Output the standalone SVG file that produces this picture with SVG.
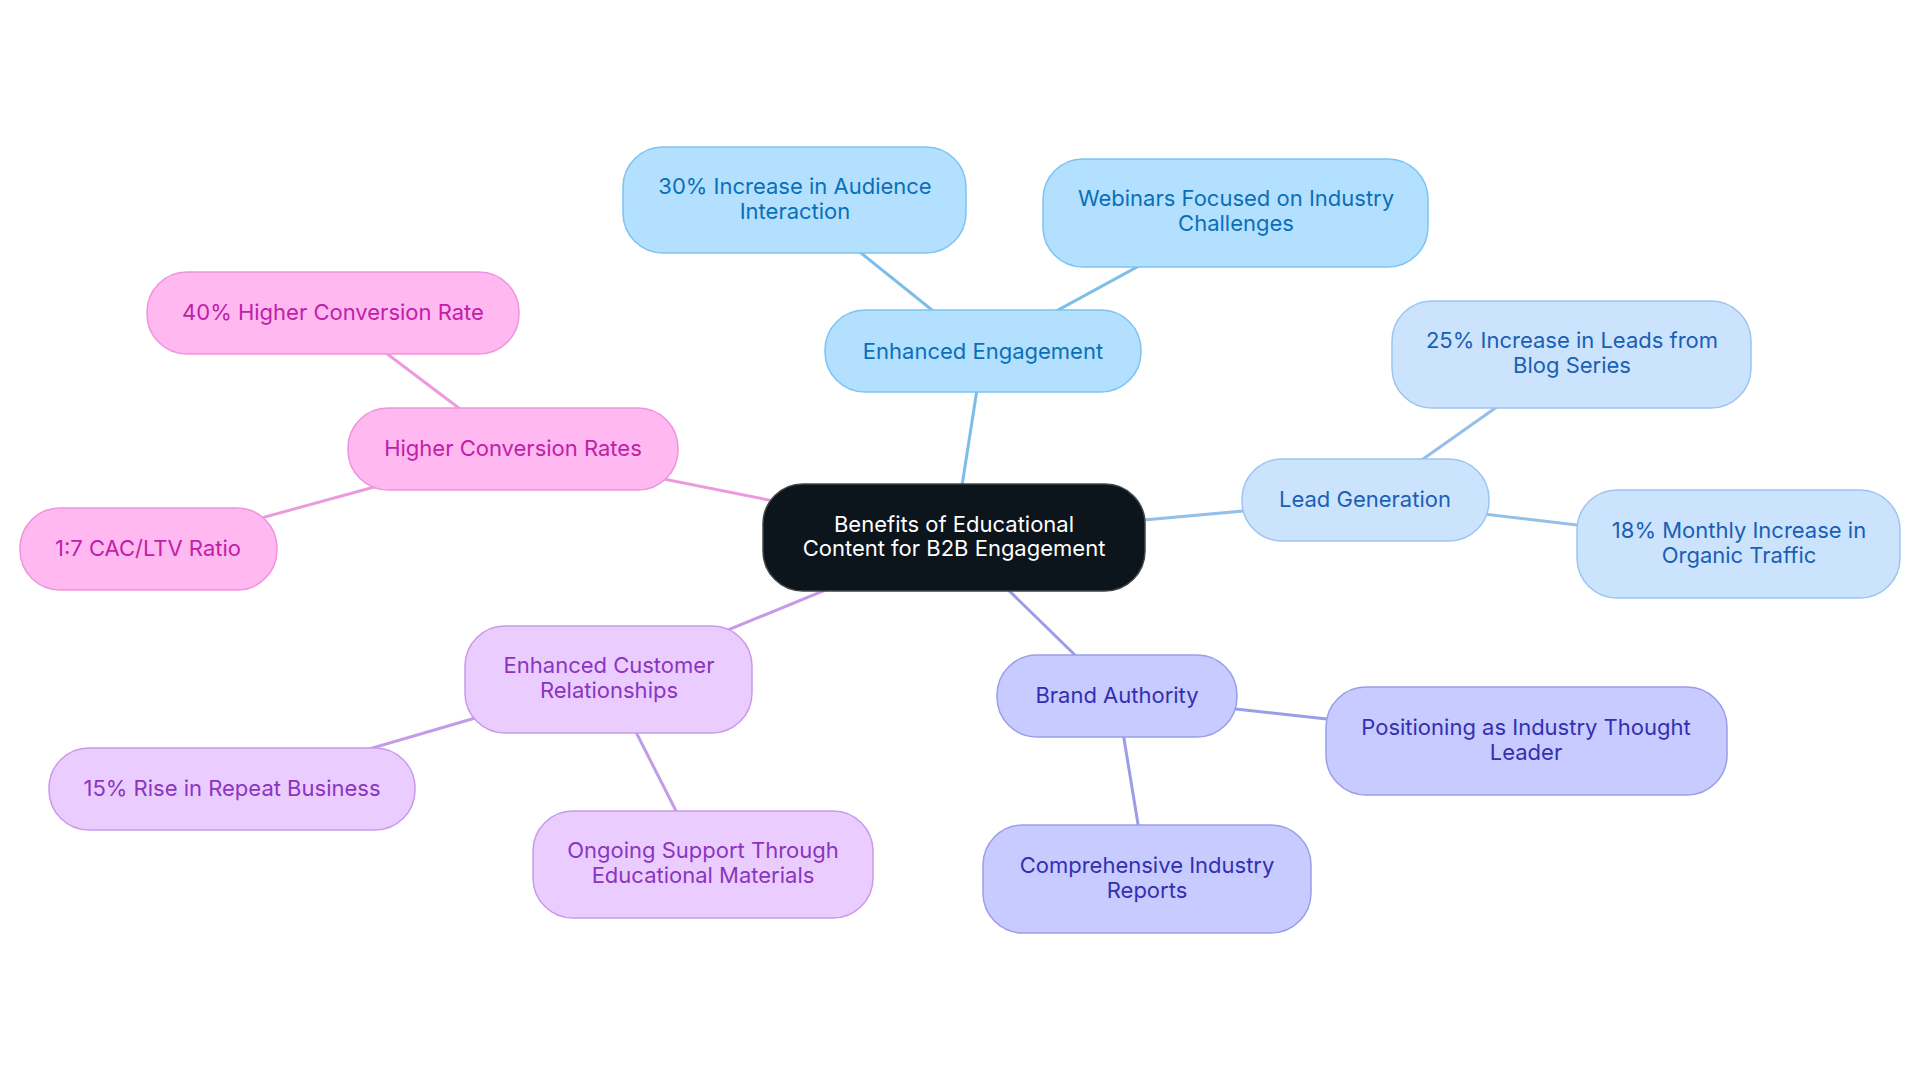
<svg xmlns="http://www.w3.org/2000/svg" width="1920" height="1083" viewBox="0 0 1920 1083">
<style>
text{font-family:Inter,"Noto Sans",sans-serif;font-size:22px;text-anchor:middle}
rect{stroke-width:1.5}
.c line{stroke-width:3}
.bl rect{fill:#b3e0ff;stroke:#7cc4f0}.bl text{fill:#0b6fb8}
.lg rect{fill:#cce3fd;stroke:#9cc5ef}.lg text{fill:#1a5fb4}
.ba rect{fill:#c8cbff;stroke:#9a9ee8}.ba text{fill:#3230b0}
.lv rect{fill:#ebccff;stroke:#c89ae8}.lv text{fill:#8a35c0}
.pk rect{fill:#ffb8f0;stroke:#ee94dd}.pk text{fill:#c020a8}
</style>
<rect width="1920" height="1083" fill="#fff"/>
<g class="c">
<line x1="954" y1="537" x2="983" y2="351" stroke="#7ebde8"/>
<line x1="983" y1="351" x2="795" y2="200" stroke="#7ebde8"/>
<line x1="983" y1="351" x2="1236" y2="213" stroke="#7ebde8"/>
<line x1="954" y1="537" x2="1365" y2="500" stroke="#94bfe8"/>
<line x1="1365" y1="500" x2="1572" y2="354" stroke="#94bfe8"/>
<line x1="1365" y1="500" x2="1739" y2="544" stroke="#94bfe8"/>
<line x1="954" y1="537" x2="1117" y2="696" stroke="#9b9de6"/>
<line x1="1117" y1="696" x2="1526" y2="741" stroke="#9b9de6"/>
<line x1="1117" y1="696" x2="1147" y2="879" stroke="#9b9de6"/>
<line x1="954" y1="537" x2="609" y2="679" stroke="#c39be6"/>
<line x1="609" y1="679" x2="232" y2="789" stroke="#c39be6"/>
<line x1="609" y1="679" x2="703" y2="864" stroke="#c39be6"/>
<line x1="954" y1="537" x2="513" y2="449" stroke="#ec9ade"/>
<line x1="513" y1="449" x2="333" y2="313" stroke="#ec9ade"/>
<line x1="513" y1="449" x2="148" y2="549" stroke="#ec9ade"/>
</g>
<g id="center"><rect x="763" y="484" width="382" height="107" rx="40" fill="#0c141c" stroke="#444"/><text x="954" y="532" fill="#fff">Benefits of Educational</text><text x="954" y="556" fill="#fff">Content for B2B Engagement</text></g>
<g id="ee" class="bl"><rect x="825" y="310" width="316" height="82" rx="40"/><text x="983" y="359">Enhanced Engagement</text></g>
<g id="ee1" class="bl"><rect x="623" y="147" width="343" height="106" rx="40"/><text x="795" y="194">30% Increase in Audience</text><text x="795" y="219">Interaction</text></g>
<g id="ee2" class="bl"><rect x="1043" y="159" width="385" height="108" rx="40"/><text x="1236" y="206">Webinars Focused on Industry</text><text x="1236" y="231">Challenges</text></g>
<g id="lg" class="lg"><rect x="1242" y="459" width="247" height="82" rx="40"/><text x="1365" y="507">Lead Generation</text></g>
<g id="lg1" class="lg"><rect x="1392" y="301" width="359" height="107" rx="40"/><text x="1572" y="348">25% Increase in Leads from</text><text x="1572" y="373">Blog Series</text></g>
<g id="lg2" class="lg"><rect x="1577" y="490" width="323" height="108" rx="40"/><text x="1739" y="538">18% Monthly Increase in</text><text x="1739" y="563">Organic Traffic</text></g>
<g id="ba" class="ba"><rect x="997" y="655" width="240" height="82" rx="40"/><text x="1117" y="703">Brand Authority</text></g>
<g id="ba1" class="ba"><rect x="1326" y="687" width="401" height="108" rx="40"/><text x="1526" y="735">Positioning as Industry Thought</text><text x="1526" y="760">Leader</text></g>
<g id="ba2" class="ba"><rect x="983" y="825" width="328" height="108" rx="40"/><text x="1147" y="873">Comprehensive Industry</text><text x="1147" y="898">Reports</text></g>
<g id="cr" class="lv"><rect x="465" y="626" width="287" height="107" rx="40"/><text x="609" y="673">Enhanced Customer</text><text x="609" y="698">Relationships</text></g>
<g id="cr1" class="lv"><rect x="49" y="748" width="366" height="82" rx="40"/><text x="232" y="796">15% Rise in Repeat Business</text></g>
<g id="cr2" class="lv"><rect x="533" y="811" width="340" height="107" rx="40"/><text x="703" y="858">Ongoing Support Through</text><text x="703" y="883">Educational Materials</text></g>
<g id="hc" class="pk"><rect x="348" y="408" width="330" height="82" rx="40"/><text x="513" y="456">Higher Conversion Rates</text></g>
<g id="hc1" class="pk"><rect x="147" y="272" width="372" height="82" rx="40"/><text x="333" y="320">40% Higher Conversion Rate</text></g>
<g id="hc2" class="pk"><rect x="20" y="508" width="257" height="82" rx="40"/><text x="148" y="556">1:7 CAC/LTV Ratio</text></g>
</svg>
